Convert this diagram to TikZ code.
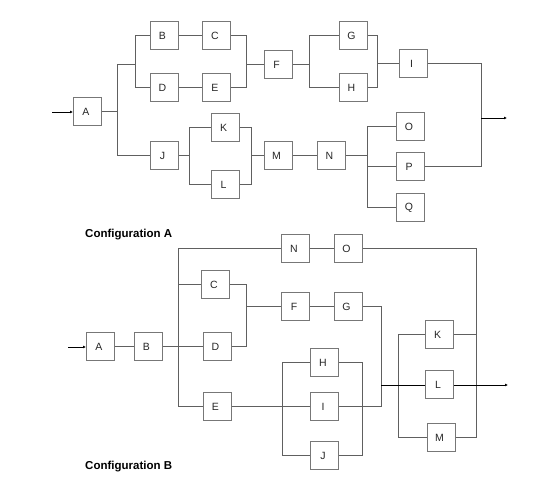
\documentclass[tikz,border=0pt]{standalone}
\usepackage{fontspec}
\setmainfont{Liberation Sans}
\usetikzlibrary{arrows.meta}
\definecolor{boxgray}{HTML}{777777}
\definecolor{wiregray}{HTML}{606060}
\definecolor{txtgray}{HTML}{262626}
\newcommand{\bx}[1]{\hspace*{-1.5pt}#1\hspace*{1.5pt}}
\begin{document}
\begin{tikzpicture}[x=1pt,y=-1pt,
  blk/.style={draw=boxgray, line width=1pt, fill=white, minimum width=28pt, minimum height=28pt, inner sep=0pt, font=\fontsize{10.5}{11}\selectfont, text=txtgray},
  wire/.style={draw=wiregray, line width=1pt},
  sig/.style={draw=black, line width=0.8pt},
  arr/.style={-{Latex[length=3pt,width=3pt]}},
  ttl/.style={font=\bfseries\fontsize{11.5}{13}\selectfont, anchor=west, inner sep=0pt}]
\useasboundingbox (0,0) rectangle (539,494);

% ---------------- Configuration A ----------------
\node[blk] (A1) at (87.5,112) {\bx{A}};
\node[blk] (B1) at (164,36) {\bx{B}};
\node[blk] (C1) at (216.5,36) {\bx{C}};
\node[blk] (D1) at (164,88) {\bx{D}};
\node[blk] (E1) at (216.5,88) {\bx{E}};
\node[blk] (F1) at (278,65) {\bx{F}};
\node[blk] (G1) at (353,36) {\bx{G}};
\node[blk] (H1) at (353,88) {\bx{H}};
\node[blk] (I1) at (413,64) {\bx{I}};
\node[blk] (J1) at (164,156) {\bx{J}};
\node[blk] (K1) at (225,127.5) {\bx{K}};
\node[blk] (L1) at (225,185) {\bx{L}};
\node[blk] (M1) at (278,156) {\bx{M}};
\node[blk] (N1) at (331,156) {\bx{N}};
\node[blk] (O1) at (410.5,127) {\bx{O}};
\node[blk] (P1) at (410.5,167) {\bx{P}};
\node[blk] (Q1) at (410.5,208) {\bx{Q}};

\coordinate (ain) at (52,112);
\coordinate (a1) at (117,112);
\coordinate (a2) at (135,65);
\coordinate (a3) at (246,65);
\coordinate (a4) at (309,65);
\coordinate (a5) at (377,64);
\coordinate (a6) at (481,118);
\coordinate (aout) at (507,118);
\coordinate (a7) at (189,156);
\coordinate (a8) at (251,156);
\coordinate (a9) at (367,156);

\draw[sig,arr] (ain) -- (A1.west);
\draw[wire] (A1.east) -- (a1);
\draw[wire] (a1) |- (a2);
\draw[wire] (a1) |- (J1.west);
\draw[wire] (a2) |- (B1.west);
\draw[wire] (a2) |- (D1.west);
\draw[wire] (B1) -- (C1);
\draw[wire] (D1) -- (E1);
\draw[wire] (C1.east) -| (a3);
\draw[wire] (E1.east) -| (a3);
\draw[wire] (a3) -- (F1.west);
\draw[wire] (F1.east) -- (a4);
\draw[wire] (a4) |- (G1.west);
\draw[wire] (a4) |- (H1.west);
\draw[wire] (G1.east) -| (a5);
\draw[wire] (H1.east) -| (a5);
\draw[wire] (a5) -- (I1.west);
\draw[wire] (I1.east) -| (a6);
\draw[wire] (P1.east) -| (a6);
\draw[sig,arr] (a6) -- (aout);
\draw[wire] (J1.east) -- (a7);
\draw[wire] (a7) |- (K1.west);
\draw[wire] (a7) |- (L1.west);
\draw[wire] (K1.east) -| (a8);
\draw[wire] (L1.east) -| (a8);
\draw[wire] (a8) -- (M1.west);
\draw[wire] (M1) -- (N1);
\draw[wire] (N1.east) -- (a9);
\draw[wire] (a9) |- (O1.west);
\draw[wire] (a9) |- (P1.west);
\draw[wire] (a9) |- (Q1.west);

\node[ttl] (tA) at (85,235) {Configuration A};

% ---------------- Configuration B ----------------
\node[blk] (A2) at (100.5,347) {\bx{A}};
\node[blk] (B2) at (148,347) {\bx{B}};
\node[blk] (N2) at (295.5,249) {\bx{N}};
\node[blk] (O2) at (348,249) {\bx{O}};
\node[blk] (C2) at (215.5,285) {\bx{C}};
\node[blk] (D2) at (217,347) {\bx{D}};
\node[blk] (E2) at (217,407) {\bx{E}};
\node[blk] (F2) at (295.5,307) {\bx{F}};
\node[blk] (G2) at (348,307) {\bx{G}};
\node[blk] (H2) at (324.5,363) {\bx{H}};
\node[blk] (I2) at (324.5,407) {\bx{I}};
\node[blk] (J2) at (324.5,456) {\bx{J}};
\node[blk] (K2) at (439,335) {\bx{K}};
\node[blk] (L2) at (439.5,385) {\bx{L}};
\node[blk] (M2) at (441,438) {\bx{M}};

\coordinate (bin) at (68,347);
\coordinate (b1) at (178,347);
\coordinate (b2) at (246,307);
\coordinate (b3) at (282,407);
\coordinate (b3r) at (362,407);
\coordinate (b4) at (381,385);
\coordinate (b5) at (398,385);
\coordinate (b6) at (476,385);
\coordinate (bout) at (508,385);

\draw[sig,arr] (bin) -- (A2.west);
\draw[wire] (A2) -- (B2);
\draw[wire] (B2.east) -- (b1);
\draw[wire] (b1) |- (N2.west);
\draw[wire] (b1) |- (C2.west);
\draw[wire] (b1) -- (D2.west);
\draw[wire] (b1) |- (E2.west);
\draw[wire] (N2) -- (O2);
\draw[wire] (O2.east) -| (b6);
\draw[wire] (C2.east) -| (b2);
\draw[wire] (D2.east) -| (b2);
\draw[wire] (b2) -- (F2.west);
\draw[wire] (F2) -- (G2);
\draw[wire] (G2.east) -| (b4);
\draw[wire] (E2.east) -- (I2.west);
\draw[wire] (b3) |- (H2.west);
\draw[wire] (b3) |- (J2.west);
\draw[wire] (H2.east) -| (b3r);
\draw[wire] (J2.east) -| (b3r);
\draw[wire] (I2.east) -| (b4);
\draw[wire] (b5) |- (K2.west);
\draw[wire] (b5) |- (M2.west);
\draw[wire] (K2.east) -| (b6);
\draw[wire] (M2.east) -| (b6);
\draw[sig] (b4) -- (L2.west);
\draw[sig,arr] (L2.east) -- (bout);

\node[ttl] (tB) at (85,467) {Configuration B};
\end{tikzpicture}
\end{document}
